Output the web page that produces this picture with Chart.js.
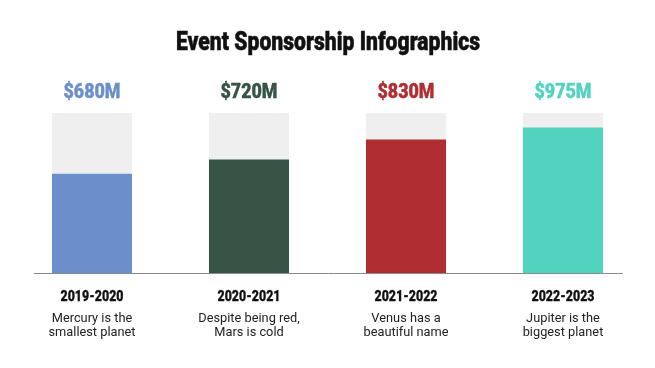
<!DOCTYPE html>
<html>
<head>
<meta charset="utf-8">
<script src="https://cdn.jsdelivr.net/npm/chart.js@4"></script>
<style>
html,body{margin:0;padding:0;background:#fff;}
#wrap{position:relative;width:655px;height:368px;}
canvas{display:block;}
</style>
</head>
<body>
<div id="wrap"><canvas id="c" width="655" height="368"></canvas></div>
<script>
const title = "Event Sponsorship Infographics";
const categories = ["2019-2020", "2020-2021", "2021-2022", "2022-2023"];
const amountLabels = ["$680M", "$720M", "$830M", "$975M"];
const fillValues = [62, 71, 83.5, 91];
const maxValues = [100, 100, 100, 100];
const descriptions = [
  ["Mercury is the", "smallest planet"],
  ["Despite being red,", "Mars is cold"],
  ["Venus has a", "beautiful name"],
  ["Jupiter is the", "biggest planet"]
];
const barColors = ["#6b8fca", "#365546", "#b02e31", "#52d3bf"];

const baseFont = "Roboto, 'DejaVu Sans', sans-serif";

function drawCond(ctx, text, x, y, font, sx, stroke) {
  ctx.save();
  ctx.font = font;
  ctx.translate(x, y);
  ctx.scale(sx, 1);
  ctx.fillText(text, 0, 0);
  if (stroke) {
    ctx.strokeStyle = ctx.fillStyle;
    ctx.lineWidth = stroke;
    ctx.lineJoin = 'round';
    ctx.strokeText(text, 0, 0);
  }
  ctx.restore();
}

const textPlugin = {
  id: 'texts',
  afterDraw(chart) {
    const ctx = chart.ctx;
    const xs = chart.scales.x;
    const ys = chart.scales.y;
    const area = chart.chartArea;
    ctx.save();
    // baseline
    ctx.strokeStyle = '#8a8a8a';
    ctx.lineWidth = 1;
    ctx.beginPath();
    ctx.moveTo(34, Math.round(area.bottom) + 0.5);
    ctx.lineTo(623, Math.round(area.bottom) + 0.5);
    ctx.stroke();
    ctx.textAlign = 'center';
    ctx.textBaseline = 'middle';
    const tFont = "900 25px " + baseFont;
    const aFont = "900 21px " + baseFont;
    const yFont = "900 15.5px " + baseFont;
    const dFont = "13.5px " + baseFont;
    ctx.font = tFont;
    const tSx = 304 / ctx.measureText(title).width;
    ctx.font = aFont;
    const aSx = 57 / ctx.measureText("$680M").width;
    ctx.font = yFont;
    const ySx = 63 / ctx.measureText("2019-2020").width;
    ctx.font = dFont;
    const dSx = 87 / ctx.measureText("smallest planet").width;
    ctx.fillStyle = '#111';
    drawCond(ctx, title, 328, 44, tFont, tSx, 0.5);
    categories.forEach((c, i) => {
      const x = xs.getPixelForValue(i);
      const topY = ys.getPixelForValue(maxValues[i]);
      ctx.fillStyle = barColors[i];
      drawCond(ctx, amountLabels[i], x, topY - 20, aFont, aSx, 0.4);
      ctx.fillStyle = '#111';
      drawCond(ctx, c, x, area.bottom + 24, yFont, ySx, 0.3);
      ctx.fillStyle = '#222';
      descriptions[i].forEach((line, j) => {
        drawCond(ctx, line, x, area.bottom + 45.5 + j * 14.5, dFont, dSx, 0);
      });
    });
    ctx.restore();
  }
};

new Chart(document.getElementById('c'), {
  type: 'bar',
  data: {
    labels: categories,
    datasets: [
      { label: 'Value', data: fillValues, backgroundColor: barColors, order: 0,
        barPercentage: 0.51, categoryPercentage: 1, grouped: false },
      { label: 'Max', data: maxValues, backgroundColor: '#efefef', order: 1,
        barPercentage: 0.51, categoryPercentage: 1, grouped: false }
    ]
  },
  options: {
    responsive: false,
    animation: false,
    layout: { padding: { left: 13.5, right: 13.5, top: 113, bottom: 95 } },
    plugins: { legend: { display: false }, tooltip: { enabled: false }, title: { display: false } },
    scales: {
      x: { display: false, offset: true, grid: { display: false } },
      y: { display: false, min: 0, max: 100, grid: { display: false } }
    }
  },
  plugins: [textPlugin]
});
</script>
</body>
</html>
